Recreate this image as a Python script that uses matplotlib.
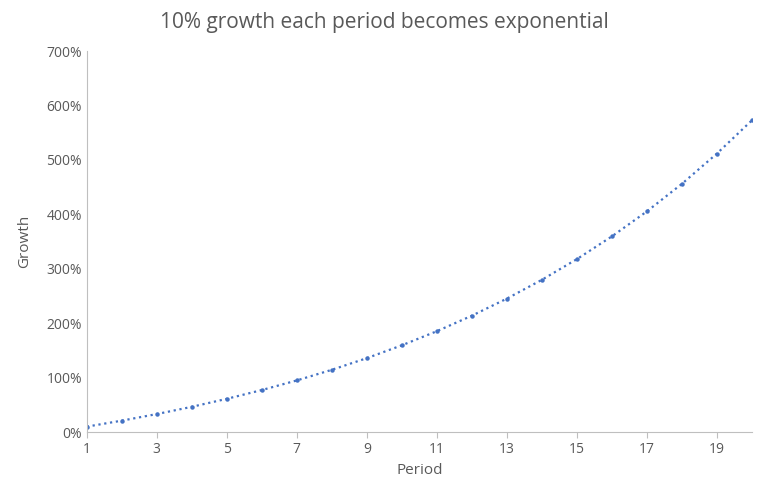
import matplotlib
matplotlib.use("Agg")
import matplotlib.pyplot as plt
from matplotlib.ticker import FuncFormatter

periods = list(range(1, 21))
growth = [10, 21, 33.1, 46.4, 61.1, 77.2, 94.9, 114.4, 135.8, 159.4,
          185.3, 213.8, 245.2, 279.7, 317.7, 359.5, 405.4, 456.0, 511.6, 572.7]
xticks = list(range(1, 20, 2))
yticks = list(range(0, 701, 100))

plt.rcParams['font.family'] = ['Open Sans', 'DejaVu Sans']
fig = plt.figure(figsize=(7.68, 4.91), dpi=100)
ax = fig.add_axes([0.113, 0.120, 0.866, 0.776])
c = '#4472C4'
ax.plot(periods, growth, linestyle=':', color=c, linewidth=1.6,
        marker='o', markersize=2.2)
ax.set_xlim(1, 20)
ax.set_ylim(0, 700)
ax.set_xticks(xticks)
ax.set_yticks(yticks)
ax.yaxis.set_major_formatter(FuncFormatter(lambda v, p: f"{int(v)}%"))
for s in ['top', 'right']:
    ax.spines[s].set_visible(False)
for s in ['left', 'bottom']:
    ax.spines[s].set_color('#BFBFBF')
ax.tick_params(axis='y', length=0, labelsize=10, colors='#595959')
ax.tick_params(axis='x', length=4, color='#BFBFBF', labelsize=10, colors='#595959')
ax.set_xlabel('Period', fontsize=11, color='#595959')
ax.set_ylabel('Growth', fontsize=11, color='#595959', labelpad=10)
fig.suptitle('10% growth each period becomes exponential', fontsize=15,
             color='#595959', y=0.975)
fig.savefig('out.png', dpi=100)
